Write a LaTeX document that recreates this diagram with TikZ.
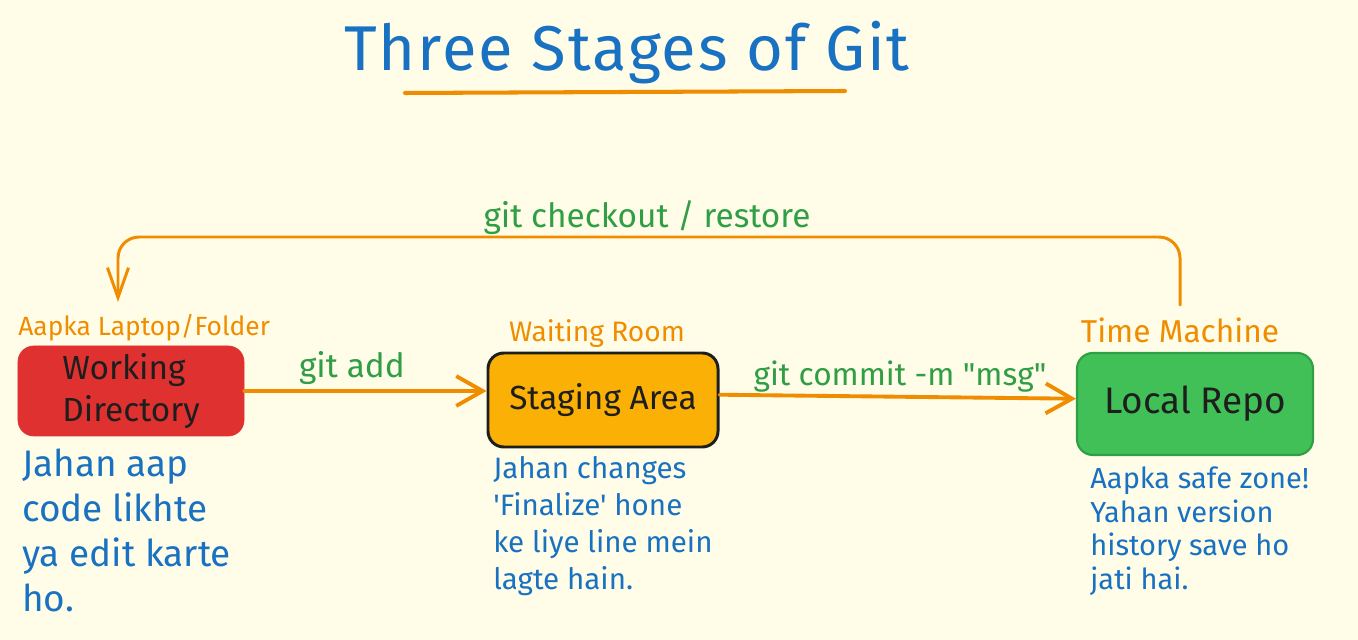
\documentclass[tikz,border=0pt]{standalone}
\usepackage{fontspec}
\setmainfont{Fira Sans}
\newfontfamily\plainfont{Fira Sans}
\usetikzlibrary{positioning, arrows.meta, calc}
\definecolor{gbg}{HTML}{FFFDE8}
\definecolor{gblue}{HTML}{1971C2}
\definecolor{gorange}{HTML}{F08C00}
\definecolor{ggreen}{HTML}{2F9E44}
\definecolor{gred}{HTML}{E03131}
\definecolor{gyellow}{HTML}{FAB005}
\definecolor{glime}{HTML}{40C057}
\definecolor{gink}{HTML}{1E1E1E}
\tikzset{
  stage/.style={rounded corners=9pt, text=gink, align=center, font=\fontsize{19}{24}\selectfont},
  tag/.style={text=gorange, inner sep=0pt},
  cmd/.style={text=ggreen, inner sep=0pt, font=\fontsize{19}{21}\selectfont},
  note/.style={text=gblue, align=left, anchor=north west, inner sep=0pt},
  flow/.style={draw=gorange, line width=2.2pt, line cap=round,
    -{Straight Barb[length=15pt, width=17pt, line width=2.2pt]}},
}
\begin{document}
\begin{tikzpicture}
\fill[gbg] (0,0) rectangle (27.16,-12.8);

% title
\node[text=gblue, font=\fontsize{36}{40}\selectfont\addfontfeature{LetterSpace=3}] (title) at (12.54,-1.06) {Three Stages of Git};
\draw[gorange, line width=2.3pt, line cap=round] (8.1,-1.86) -- (16.9,-1.82);

% the three stages
\node[stage, fill=gred, draw=gred, align=left, minimum width=4.52cm, minimum height=1.8cm] (wd) at (2.62,-7.82) {Working\\Directory};
\node[stage, fill=gyellow, draw=gink, line width=1.7pt, minimum width=4.6cm, minimum height=1.88cm] (sa) at (12.06,-8.0) {Staging Area};
\node[stage, fill=glime, draw=ggreen, line width=1.2pt, minimum width=4.72cm, minimum height=2.04cm, font=\fontsize{21}{25}\selectfont] (lr) at (23.9,-8.08) {Local Repo};

% tags above the boxes
\node[tag, anchor=base west, font=\fontsize{15}{17}\selectfont] (wdtag) at (0.36,-6.72) {Aapka Laptop/Folder};
\node[tag, anchor=base, font=\fontsize{16}{18}\selectfont] (satag) at (11.94,-6.84) {Waiting Room};
\node[tag, anchor=base, font=\fontsize{18}{20}\selectfont] (lrtag) at (23.6,-6.86) {Time Machine};

% notes below the boxes
\node[note, font=\fontsize{21}{25.5}\selectfont] (wdnote) at (0.44,-8.98) {Jahan aap\\code likhte\\ya edit karte\\ho.};
\node[note, font=\plainfont\fontsize{16.8}{21}\selectfont] (sanote) at (9.86,-9.12) {Jahan changes\\'Finalize' hone\\ke liye line mein\\lagte hain.};
\node[note, font=\fontsize{16.5}{19.3}\selectfont] (lrnote) at (21.8,-9.32) {Aapka safe zone!\\Yahan version\\history save ho\\jati hai.};

% commands
\draw[flow] (wd.east) -- (wd.east -| sa.west);
\node[cmd, anchor=base] (add) at (7.04,-7.56) {git add};
\draw[flow] ([yshift=3pt]sa.east) -- ([yshift=3pt]lr.west);
\node[cmd, anchor=base, font=\plainfont\fontsize{18}{20}\selectfont] (commit) at (18.0,-7.72) {git commit -m "msg"};

% way back
\coordinate (lrup) at (23.6,-6.1);
\coordinate (wddown) at (2.36,-6.04);
\coordinate (topline) at (0,-4.74);
\draw[flow, line width=1.7pt, rounded corners=12pt, -{Straight Barb[length=17pt, width=12pt, line width=1.7pt]}]
  (lrup) -- (lrup |- topline) -- (wddown |- topline) -- (wddown);
\node[cmd, anchor=base] (checkout) at (12.94,-4.56) {git checkout / restore};
\end{tikzpicture}
\end{document}
